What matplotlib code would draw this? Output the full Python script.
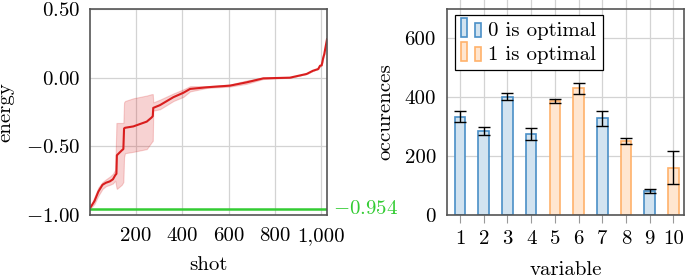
import numpy as np
import matplotlib
matplotlib.use('Agg')
import matplotlib.pyplot as plt
from matplotlib.patches import Rectangle
from matplotlib.legend_handler import HandlerBase
from matplotlib.ticker import FuncFormatter

plt.rcParams['font.family'] = ['cmr10', 'DejaVu Serif']
plt.rcParams['mathtext.fontset'] = 'cm'
plt.rcParams['axes.unicode_minus'] = False
plt.rcParams['font.size'] = 15

# left panel: energy vs shot (mean and band)
shot = [1, 20, 37, 55, 70, 87, 100, 110, 115, 117, 138, 145, 148, 152, 188, 246, 267, 272, 274,
        303, 361, 404, 433, 505, 605, 677, 749, 864, 936, 963, 986, 994, 1001, 1008, 1012, 1024]
energy_mean = [-0.95, -0.90, -0.83, -0.78, -0.765, -0.755, -0.74, -0.71, -0.70, -0.565, -0.53, -0.52, -0.37, -0.365,
               -0.355, -0.32, -0.29, -0.28, -0.22,
               -0.20, -0.142, -0.11, -0.082, -0.07, -0.058, -0.034, -0.005, 0.0, 0.027, 0.05, 0.063, 0.087, 0.09,
               0.147, 0.17, 0.28]
energy_lo = [-0.955, -0.92, -0.86, -0.81, -0.79, -0.78, -0.77, -0.75, -0.80, -0.81, -0.78, -0.76, -0.58, -0.55,
             -0.54, -0.52, -0.47, -0.46, -0.24,
             -0.23, -0.17, -0.14, -0.10, -0.075, -0.065, -0.045, -0.01, 0.0, 0.027, 0.05, 0.063, 0.087, 0.09,
             0.147, 0.17, 0.28]
energy_hi = [-0.945, -0.87, -0.80, -0.76, -0.74, -0.72, -0.70, -0.67, -0.33, -0.33, -0.33, -0.33, -0.18, -0.17,
             -0.15, -0.13, -0.12, -0.12, -0.18,
             -0.16, -0.115, -0.085, -0.062, -0.062, -0.05, -0.02, 0.0, 0.0, 0.027, 0.05, 0.063, 0.087, 0.09,
             0.147, 0.17, 0.28]
ground_energy = -0.954

# right panel: occurences per variable
variables = [1, 2, 3, 4, 5, 6, 7, 8, 9, 10]
occurences = [334, 286, 402, 274, 387, 430, 328, 251, 83, 161]
occ_err = [18, 13, 12, 20, 8, 18, 25, 10, 7, 57]
optimal = [0, 0, 0, 0, 1, 1, 0, 1, 0, 1]

frame_col = '#555555'
grid_col = '#d3d3d3'
red = '#d91e1e'
green = '#33cc33'
blue_fc, blue_ec = '#d2e3f0', '#4a8fc7'
orange_fc, orange_ec = '#ffe6d0', '#ffb26b'

fig = plt.figure(figsize=(6.85, 2.75), dpi=100)
ax1 = fig.add_axes([90 / 685, 60 / 275, 237 / 685, 206 / 275])
ax2 = fig.add_axes([447 / 685, 60 / 275, 237 / 685, 206 / 275])

for ax in (ax1, ax2):
    for sp in ax.spines.values():
        sp.set_color(frame_col)
        sp.set_linewidth(1.2)
    ax.set_axisbelow(True)

# ---- left
ax1.fill_between(shot, energy_lo, energy_hi, color=red, alpha=0.2, lw=0.8)
ax1.plot(shot, energy_mean, color=red, lw=1.5)
ax1.axhline(ground_energy, color=green, lw=1.8)
ax1.text(1.025, ground_energy, '$-0.954$', color=green, transform=ax1.get_yaxis_transform(),
         va='center', ha='left', fontsize=15)
ax1.set_xlim(1, 1024)
ax1.set_ylim(-1, 0.5)
ax1.set_xticks([200, 400, 600, 800, 1000])
ax1.set_yticks([-1, -0.5, 0, 0.5])
ax1.xaxis.set_major_formatter(FuncFormatter(lambda v, p: '{:,}'.format(int(v))))
ax1.yaxis.set_major_formatter(FuncFormatter(lambda v, p: '$%.2f$' % v))
ax1.grid(True, color=grid_col, lw=0.9)
ax1.tick_params(axis='x', length=0, pad=9)
ax1.tick_params(axis='y', length=0, pad=7)
ax1.set_xlabel('shot')
ax1.set_ylabel('energy')
ax1.xaxis.set_label_coords(0.5, -0.2)
ax1.yaxis.set_label_coords(-0.32, 0.5)

# ---- right
fcs = [orange_fc if o else blue_fc for o in optimal]
ecs = [orange_ec if o else blue_ec for o in optimal]
ax2.bar(variables, occurences, width=0.45, color=fcs, edgecolor=ecs, lw=1.2, zorder=2)
ax2.errorbar(variables, occurences, yerr=occ_err, fmt='none', ecolor='black', elinewidth=1,
             capsize=4, capthick=1, zorder=3)
ax2.set_xlim(0.45, 10.45)
ax2.set_ylim(0, 700)
ax2.set_xticks(variables)
ax2.set_yticks([0, 200, 400, 600])
ax2.yaxis.grid(True, color=grid_col, lw=0.9)
ax2.vlines(variables, 0, 1.05, transform=ax2.get_xaxis_transform(), color=grid_col, lw=0.9,
           clip_on=False, zorder=0)
ax2.tick_params(axis='x', length=6, color='#999999', pad=5)
ax2.tick_params(axis='y', length=0, pad=8)
ax2.set_xlabel('variable')
ax2.set_ylabel('occurences')
ax2.xaxis.set_label_coords(0.5, -0.225)
ax2.yaxis.set_label_coords(-0.22, 0.5)


class TwoBars(HandlerBase):
    def create_artists(self, legend, orig, xdescent, ydescent, width, height, fontsize, trans):
        fc, ec = orig.get_facecolor(), orig.get_edgecolor()
        w = width * 0.3
        r1 = Rectangle((-xdescent, -ydescent - 0.1 * height), w, height * 1.35, fc=fc, ec=ec, lw=1.2,
                       transform=trans)
        r2 = Rectangle((-xdescent + width * 0.7, -ydescent - 0.1 * height), w, height * 1.0, fc=fc, ec=ec,
                       lw=1.2, transform=trans)
        return [r1, r2]


h0 = Rectangle((0, 0), 1, 1, fc=blue_fc, ec=blue_ec)
h1 = Rectangle((0, 0), 1, 1, fc=orange_fc, ec=orange_ec)
leg = ax2.legend([h0, h1], ['0 is optimal', '1 is optimal'], handler_map={Rectangle: TwoBars()},
                 loc='upper left', bbox_to_anchor=(0.034, 0.97), borderaxespad=0, fancybox=False,
                 framealpha=1, edgecolor='black', handlelength=0.95, handletextpad=0.35,
                 borderpad=0.3, labelspacing=0.25, fontsize=15)
leg.get_frame().set_linewidth(0.9)

fig.savefig('out.png', dpi=100)
